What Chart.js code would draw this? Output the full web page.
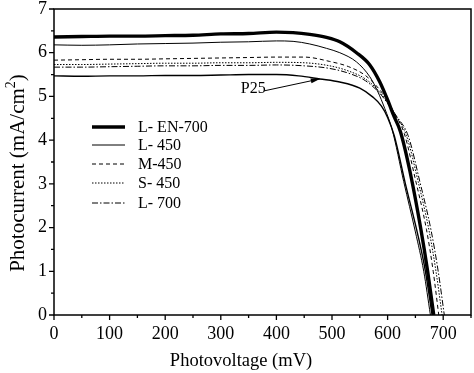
<!DOCTYPE html>
<html><head><meta charset="utf-8">
<script src="https://cdn.jsdelivr.net/npm/chart.js@4"></script>
<style>html,body{margin:0;padding:0;background:#fff}#wrap{width:474px;height:373px;position:relative}</style>
</head><body><div id="wrap"><canvas id="c"></canvas></div>
<script>
// ---- data ----
const seriesNames = ['L- EN-700', 'L- 450', 'M-450', 'S- 450', 'L- 700', 'P25'];

const vEN700 = [0, 50, 100, 150, 200, 250, 300, 350, 400, 430, 460, 490, 514, 544, 568, 586, 600, 612, 623, 640, 660, 672, 683];
const jEN700 = [6.36, 6.37, 6.38, 6.38, 6.39, 6.40, 6.43, 6.44, 6.47, 6.46, 6.42, 6.35, 6.25, 6.00, 5.72, 5.33, 4.92, 4.53, 4.20, 3.30, 1.95, 1.00, 0];

const vL450 = [0, 50, 100, 150, 200, 250, 300, 350, 400, 430, 460, 490, 514, 544, 568, 582, 595, 608, 629, 650, 665, 677];
const jL450 = [6.18, 6.17, 6.18, 6.20, 6.21, 6.22, 6.24, 6.25, 6.27, 6.26, 6.20, 6.10, 6.00, 5.79, 5.45, 5.12, 4.72, 4.25, 3.05, 1.90, 1.00, 0];

const vM450 = [0, 50, 100, 150, 200, 250, 300, 350, 400, 450, 496, 530, 560, 586, 600, 612, 630, 650, 670, 682, 692];
const jM450 = [5.83, 5.84, 5.85, 5.85, 5.86, 5.87, 5.88, 5.89, 5.90, 5.90, 5.80, 5.68, 5.48, 5.15, 4.90, 4.62, 4.15, 3.10, 1.95, 1.00, 0];

const vS450 = [0, 50, 100, 150, 200, 250, 300, 350, 400, 450, 496, 530, 560, 586, 600, 614, 634, 655, 675, 687, 698];
const jS450 = [5.73, 5.73, 5.74, 5.75, 5.76, 5.76, 5.77, 5.77, 5.78, 5.77, 5.70, 5.58, 5.40, 5.10, 4.86, 4.58, 4.10, 3.05, 1.90, 1.00, 0];

const vL700 = [0, 50, 100, 150, 200, 250, 300, 350, 400, 450, 496, 530, 560, 586, 600, 616, 637, 658, 678, 691, 702];
const jL700 = [5.67, 5.67, 5.68, 5.69, 5.70, 5.70, 5.71, 5.71, 5.72, 5.70, 5.64, 5.53, 5.36, 5.07, 4.84, 4.55, 4.10, 3.05, 1.95, 1.00, 0];

const vP25 = [0, 50, 100, 150, 200, 250, 300, 350, 400, 440, 478, 514, 550, 573, 589, 600, 612, 632, 655, 668, 680];
const jP25 = [5.47, 5.46, 5.47, 5.47, 5.48, 5.48, 5.49, 5.50, 5.50, 5.47, 5.40, 5.33, 5.19, 4.99, 4.78, 4.52, 4.10, 3.00, 1.80, 1.00, 0];

const xTickValues = [0, 100, 200, 300, 400, 500, 600, 700];
const yTickValues = [0, 1, 2, 3, 4, 5, 6, 7];
const xMax = 750, yMax = 7;
const xTitle = 'Photovoltage (mV)';
const yTitleMain = 'Photocurrent (mA/cm';
const yTitleSup = '2';
const yTitleEnd = ')';

const annotationLabel = 'P25';
const arrowTail = [379, 5.13];
const arrowTip = [478, 5.40];

// ---- build ----
const pts = (v, j) => v.map((x, i) => ({ x: x, y: j[i] }));
const SERIF = 'Liberation Serif';

const styles = [
  { borderWidth: 3.4, borderDash: [] },
  { borderWidth: 1, borderDash: [] },
  { borderWidth: 1, borderDash: [4, 3] },
  { borderWidth: 1, borderDash: [1.5, 1.5] },
  { borderWidth: 1, borderDash: [6, 2, 1.5, 2] },
  { borderWidth: 1.4, borderDash: [] }
];
const series = [
  pts(vEN700, jEN700), pts(vL450, jL450), pts(vM450, jM450),
  pts(vS450, jS450), pts(vL700, jL700), pts(vP25, jP25)
];

const datasets = series.map((d, i) => ({
  label: seriesNames[i],
  data: d,
  borderColor: '#000',
  backgroundColor: '#000',
  borderWidth: styles[i].borderWidth,
  borderDash: styles[i].borderDash,
  pointRadius: 0,
  fill: false,
  cubicInterpolationMode: 'monotone'
}));

const framePlugin = {
  id: 'frame',
  afterDraw(chart) {
    const ctx = chart.ctx, a = chart.chartArea;
    const xs = chart.scales.x, ys = chart.scales.y;
    ctx.save();
    ctx.strokeStyle = '#000';
    ctx.lineWidth = 1.5;
    ctx.strokeRect(a.left, a.top, a.right - a.left, a.bottom - a.top);
    ctx.lineWidth = 1.3;
    ctx.beginPath();
    for (let v = 0; v <= xMax; v += 50) {
      const px = xs.getPixelForValue(v);
      const len = (v % 100 === 0) ? 5 : 3;
      ctx.moveTo(px, a.bottom); ctx.lineTo(px, a.bottom + len);
    }
    for (let v = 0; v <= yMax; v += 0.5) {
      const py = ys.getPixelForValue(v);
      const len = (v % 1 === 0) ? 5 : 3;
      ctx.moveTo(a.left, py); ctx.lineTo(a.left - len, py);
    }
    ctx.stroke();
    // axis titles
    ctx.fillStyle = '#000';
    ctx.font = '18.5px "' + SERIF + '"';
    ctx.textAlign = 'center';
    ctx.textBaseline = 'middle';
    ctx.fillText(xTitle, 241, 361);
    ctx.save();
    ctx.translate(17, 173);
    ctx.rotate(-Math.PI / 2);
    const fMain = '21px "' + SERIF + '"', fSup = '14px "' + SERIF + '"';
    ctx.font = fMain;
    const w1 = ctx.measureText(yTitleMain).width;
    const w3 = ctx.measureText(yTitleEnd).width;
    ctx.font = fSup;
    const w2 = ctx.measureText(yTitleSup).width;
    let x0 = -(w1 + w2 + w3) / 2;
    ctx.textAlign = 'left';
    ctx.textBaseline = 'alphabetic';
    ctx.font = fMain;
    ctx.fillText(yTitleMain, x0, 7);
    ctx.font = fSup;
    ctx.fillText(yTitleSup, x0 + w1, -2);
    ctx.font = fMain;
    ctx.fillText(yTitleEnd, x0 + w1 + w2, 7);
    ctx.restore();
    ctx.restore();
  },
  afterDatasetsDraw(chart) {
    const ctx = chart.ctx, a = chart.chartArea;
    const xs = chart.scales.x, ys = chart.scales.y;
    ctx.save();
    // legend
    ctx.font = '16px "' + SERIF + '"';
    ctx.fillStyle = '#000';
    ctx.textBaseline = 'middle';
    ctx.textAlign = 'left';
    const rows = [118, 136, 155, 174, 194];
    for (let i = 0; i < 5; i++) {
      const ds = chart.data.datasets[i];
      const y = a.top + rows[i];
      ctx.strokeStyle = '#000';
      ctx.lineWidth = ds.borderWidth;
      ctx.setLineDash(ds.borderDash);
      ctx.beginPath();
      ctx.moveTo(a.left + 38, y); ctx.lineTo(a.left + 71, y);
      ctx.stroke();
      ctx.setLineDash([]);
      ctx.fillText(ds.label, a.left + 84, y + 1);
    }
    // P25 annotation with arrow
    const tx = xs.getPixelForValue(arrowTail[0]), ty = ys.getPixelForValue(arrowTail[1]);
    const hx = xs.getPixelForValue(arrowTip[0]), hy = ys.getPixelForValue(arrowTip[1]);
    ctx.textAlign = 'right';
    ctx.fillText(annotationLabel, tx + 1, ty - 2);
    ctx.lineWidth = 1;
    ctx.beginPath(); ctx.moveTo(tx, ty); ctx.lineTo(hx, hy); ctx.stroke();
    const ang = Math.atan2(hy - ty, hx - tx);
    ctx.beginPath();
    ctx.moveTo(hx, hy);
    ctx.lineTo(hx - 9 * Math.cos(ang) + 2.5 * Math.sin(ang), hy - 9 * Math.sin(ang) - 2.5 * Math.cos(ang));
    ctx.lineTo(hx - 9 * Math.cos(ang) - 2.5 * Math.sin(ang), hy - 9 * Math.sin(ang) + 2.5 * Math.cos(ang));
    ctx.closePath(); ctx.fill();
    ctx.restore();
  }
};

new Chart(document.getElementById('c'), {
  type: 'line',
  data: { datasets: datasets },
  options: {
    responsive: true,
    maintainAspectRatio: false,
    animation: false,
    devicePixelRatio: 1,
    layout: { padding: { top: 9, right: 3, left: 0, bottom: 0 } },
    plugins: { legend: { display: false }, tooltip: { enabled: false } },
    scales: {
      x: {
        type: 'linear', min: 0, max: xMax,
        afterBuildTicks: s => { s.ticks = xTickValues.map(v => ({ value: v })); },
        afterFit: s => { s.height = 58; s.paddingLeft = 0; s.paddingRight = 0; },
        ticks: { color: '#000', font: { family: SERIF, size: 18 }, padding: 8, maxRotation: 0, autoSkip: false },
        grid: { display: false, drawTicks: false },
        border: { display: false },
        title: { display: false }
      },
      y: {
        type: 'linear', min: 0, max: yMax,
        afterBuildTicks: s => { s.ticks = yTickValues.map(v => ({ value: v })); },
        afterFit: s => { s.width = 54; s.paddingTop = 0; s.paddingBottom = 0; },
        ticks: { color: '#000', font: { family: SERIF, size: 18 }, padding: 7, autoSkip: false },
        grid: { display: false, drawTicks: false },
        border: { display: false },
        title: { display: false }
      }
    }
  },
  plugins: [framePlugin]
});
</script>
</body></html>
